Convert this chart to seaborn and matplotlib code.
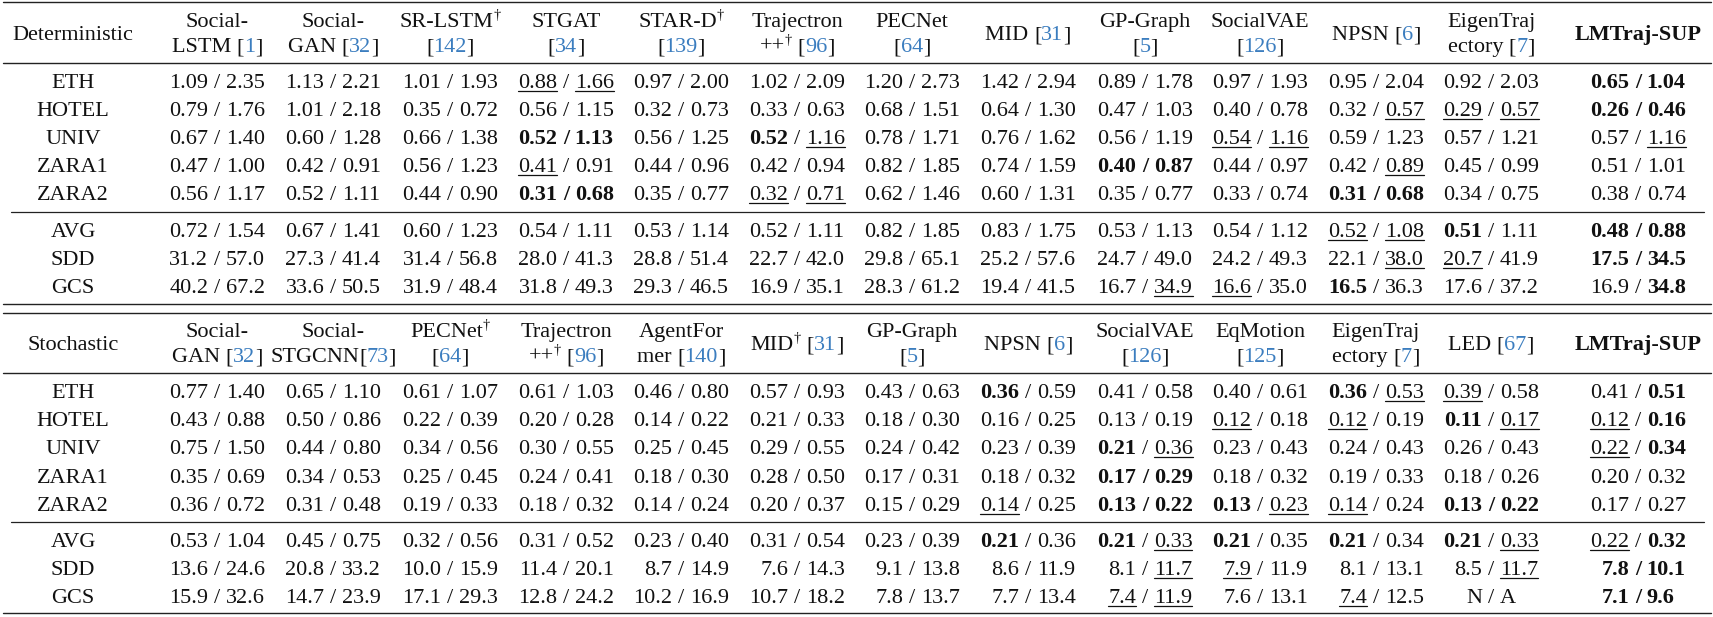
import matplotlib
matplotlib.use("Agg")
import matplotlib.pyplot as plt
import seaborn as sns
import re

sns.set_theme(style="white")
plt.rcParams['font.family'] = ['Liberation Serif', 'DejaVu Serif']

rows = ["ETH", "HOTEL", "UNIV", "ZARA1", "ZARA2", "AVG", "SDD", "GCS"]

det_headers = ["Social-\nLSTM [1]", "Social-\nGAN [32]", "SR-LSTM^†\n[142]", "STGAT\n[34]",
               "STAR-D^†\n[139]", "Trajectron\n++^† [96]", "PECNet\n[64]", "MID [31]",
               "GP-Graph\n[5]", "SocialVAE\n[126]", "NPSN [6]", "EigenTraj\nectory [7]", "*LMTraj-SUP*"]
det_slstm = ["1.09 / 2.35", "0.79 / 1.76", "0.67 / 1.40", "0.47 / 1.00", "0.56 / 1.17", "0.72 / 1.54", "31.2 / 57.0", "40.2 / 67.2"]
det_sgan = ["1.13 / 2.21", "1.01 / 2.18", "0.60 / 1.28", "0.42 / 0.91", "0.52 / 1.11", "0.67 / 1.41", "27.3 / 41.4", "33.6 / 50.5"]
det_srlstm = ["1.01 / 1.93", "0.35 / 0.72", "0.66 / 1.38", "0.56 / 1.23", "0.44 / 0.90", "0.60 / 1.23", "31.4 / 56.8", "31.9 / 48.4"]
det_stgat = ["_0.88_ / _1.66_", "0.56 / 1.15", "*0.52* / *1.13*", "_0.41_ / 0.91", "*0.31* / *0.68*", "0.54 / 1.11", "28.0 / 41.3", "31.8 / 49.3"]
det_stard = ["0.97 / 2.00", "0.32 / 0.73", "0.56 / 1.25", "0.44 / 0.96", "0.35 / 0.77", "0.53 / 1.14", "28.8 / 51.4", "29.3 / 46.5"]
det_trajpp = ["1.02 / 2.09", "0.33 / 0.63", "*0.52* / _1.16_", "0.42 / 0.94", "_0.32_ / _0.71_", "0.52 / 1.11", "22.7 / 42.0", "16.9 / 35.1"]
det_pecnet = ["1.20 / 2.73", "0.68 / 1.51", "0.78 / 1.71", "0.82 / 1.85", "0.62 / 1.46", "0.82 / 1.85", "29.8 / 65.1", "28.3 / 61.2"]
det_mid = ["1.42 / 2.94", "0.64 / 1.30", "0.76 / 1.62", "0.74 / 1.59", "0.60 / 1.31", "0.83 / 1.75", "25.2 / 57.6", "19.4 / 41.5"]
det_gpgraph = ["0.89 / 1.78", "0.47 / 1.03", "0.56 / 1.19", "*0.40* / *0.87*", "0.35 / 0.77", "0.53 / 1.13", "24.7 / 49.0", "16.7 / _34.9_"]
det_socialvae = ["0.97 / 1.93", "0.40 / 0.78", "_0.54_ / _1.16_", "0.44 / 0.97", "0.33 / 0.74", "0.54 / 1.12", "24.2 / 49.3", "_16.6_ / 35.0"]
det_npsn = ["0.95 / 2.04", "0.32 / _0.57_", "0.59 / 1.23", "0.42 / _0.89_", "*0.31* / *0.68*", "_0.52_ / _1.08_", "22.1 / _38.0_", "*16.5* / 36.3"]
det_eigen = ["0.92 / 2.03", "_0.29_ / _0.57_", "0.57 / 1.21", "0.45 / 0.99", "0.34 / 0.75", "*0.51* / 1.11", "_20.7_ / 41.9", "17.6 / 37.2"]
det_lmtraj = ["*0.65* / *1.04*", "*0.26* / *0.46*", "0.57 / _1.16_", "0.51 / 1.01", "0.38 / 0.74", "*0.48* / *0.88*", "*17.5* / *34.5*", "16.9 / *34.8*"]

sto_headers = ["Social-\nGAN [32]", "Social-\nSTGCNN[73]", "PECNet^†\n[64]", "Trajectron\n++^† [96]",
               "AgentFor\nmer [140]", "MID^† [31]", "GP-Graph\n[5]", "NPSN [6]", "SocialVAE\n[126]",
               "EqMotion\n[125]", "EigenTraj\nectory [7]", "LED [67]", "*LMTraj-SUP*"]
sto_sgan = ["0.77 / 1.40", "0.43 / 0.88", "0.75 / 1.50", "0.35 / 0.69", "0.36 / 0.72", "0.53 / 1.04", "13.6 / 24.6", "15.9 / 32.6"]
sto_stgcnn = ["0.65 / 1.10", "0.50 / 0.86", "0.44 / 0.80", "0.34 / 0.53", "0.31 / 0.48", "0.45 / 0.75", "20.8 / 33.2", "14.7 / 23.9"]
sto_pecnet = ["0.61 / 1.07", "0.22 / 0.39", "0.34 / 0.56", "0.25 / 0.45", "0.19 / 0.33", "0.32 / 0.56", "10.0 / 15.9", "17.1 / 29.3"]
sto_trajpp = ["0.61 / 1.03", "0.20 / 0.28", "0.30 / 0.55", "0.24 / 0.41", "0.18 / 0.32", "0.31 / 0.52", "11.4 / 20.1", "12.8 / 24.2"]
sto_agentformer = ["0.46 / 0.80", "0.14 / 0.22", "0.25 / 0.45", "0.18 / 0.30", "0.14 / 0.24", "0.23 / 0.40", "8.7 / 14.9", "10.2 / 16.9"]
sto_mid = ["0.57 / 0.93", "0.21 / 0.33", "0.29 / 0.55", "0.28 / 0.50", "0.20 / 0.37", "0.31 / 0.54", "7.6 / 14.3", "10.7 / 18.2"]
sto_gpgraph = ["0.43 / 0.63", "0.18 / 0.30", "0.24 / 0.42", "0.17 / 0.31", "0.15 / 0.29", "0.23 / 0.39", "9.1 / 13.8", "7.8 / 13.7"]
sto_npsn = ["*0.36* / 0.59", "0.16 / 0.25", "0.23 / 0.39", "0.18 / 0.32", "_0.14_ / 0.25", "*0.21* / 0.36", "8.6 / 11.9", "7.7 / 13.4"]
sto_socialvae = ["0.41 / 0.58", "0.13 / 0.19", "*0.21* / _0.36_", "*0.17* / *0.29*", "*0.13* / *0.22*", "*0.21* / _0.33_", "8.1 / _11.7_", "_7.4_ / _11.9_"]
sto_eqmotion = ["0.40 / 0.61", "_0.12_ / 0.18", "0.23 / 0.43", "0.18 / 0.32", "*0.13* / _0.23_", "*0.21* / 0.35", "_7.9_ / 11.9", "7.6 / 13.1"]
sto_eigen = ["*0.36* / _0.53_", "_0.12_ / 0.19", "0.24 / 0.43", "0.19 / 0.33", "_0.14_ / 0.24", "*0.21* / 0.34", "8.1 / 13.1", "_7.4_ / 12.5"]
sto_led = ["_0.39_ / 0.58", "*0.11* / _0.17_", "0.26 / 0.43", "0.18 / 0.26", "*0.13* / *0.22*", "*0.21* / _0.33_", "8.5 / _11.7_", "N / A"]
sto_lmtraj = ["0.41 / *0.51*", "_0.12_ / *0.16*", "_0.22_ / *0.34*", "0.20 / 0.32", "0.17 / 0.27", "_0.22_ / *0.32*", "*7.8* / *10.1*", "*7.1* / *9.6*"]

det_cols = [det_slstm, det_sgan, det_srlstm, det_stgat, det_stard, det_trajpp, det_pecnet, det_mid,
            det_gpgraph, det_socialvae, det_npsn, det_eigen, det_lmtraj]
sto_cols = [sto_sgan, sto_stgcnn, sto_pecnet, sto_trajpp, sto_agentformer, sto_mid, sto_gpgraph,
            sto_npsn, sto_socialvae, sto_eqmotion, sto_eigen, sto_led, sto_lmtraj]

W, H = 1713, 617
fig = plt.figure(figsize=(W / 100, H / 100), dpi=100)
ax = fig.add_axes([0, 0, 1, 1])
ax.set_xlim(0, W)
ax.set_ylim(H, 0)
ax.axis("off")
renderer = fig.canvas.get_renderer()

FS = 16
BLUE = "#3b7dbf"
INK = "#111111"
col_x = [217, 333, 450, 566, 681, 797, 912, 1028, 1145, 1260, 1376, 1491, 1638]
label_x = 73


def width(s, weight="normal", size=FS):
    t = ax.text(0, 0, s, fontsize=size, fontweight=weight)
    bb = t.get_window_extent(renderer)
    t.remove()
    return bb.width


def parse(s):
    if s.startswith("*") and s.endswith("*"):
        return s[1:-1], "bold", False
    if s.startswith("_") and s.endswith("_"):
        return s[1:-1], "normal", True
    return s, "normal", False


def put(x, yb, s, ha):
    txt, wt, ul = parse(s)
    t = ax.text(x, yb, txt, fontsize=FS, fontweight=wt, ha=ha, va="baseline", color=INK)
    if ul:
        w = width(txt, wt)
        x0 = x - w if ha == "right" else x
        ax.plot([x0, x0 + w], [yb + 3, yb + 3], color=INK, lw=0.9)


gap = width(" / ") / 2


def cell(x, yc, s):
    yb = yc + 7
    if " / " not in s:
        ax.text(x, yb, s, fontsize=FS, ha="center", va="baseline", color=INK)
        return
    l, r = s.split(" / ")
    both_bold = l.startswith("*") and r.startswith("*")
    ax.text(x, yb, "/", fontsize=FS, ha="center", va="baseline", color=INK,
            fontweight="bold" if both_bold else "normal")
    put(x - gap, yb, l, "right")
    put(x + gap, yb, r, "left")


def header_line(x, yb, line):
    bold = False
    if line.startswith("*") and line.endswith("*"):
        line, bold = line[1:-1], True
    segs = []
    for tok in re.split(r"(\[\d+\]|\^†)", line):
        if not tok:
            continue
        if tok.startswith("["):
            segs += [("[", INK, FS, 0), (tok[1:-1], BLUE, FS, 0), ("]", INK, FS, 0)]
        elif tok == "^†":
            segs.append(("†", INK, FS * 0.65, -8))
        else:
            segs.append((tok, INK, FS, 0))
    wt = "bold" if bold else "normal"
    ws = [width(t, wt, sz) for t, c, sz, dy in segs]
    cx = x - sum(ws) / 2
    for (t, c, sz, dy), w in zip(segs, ws):
        ax.text(cx, yb + dy, t, fontsize=sz, color=c, fontweight=wt, ha="left", va="baseline")
        cx += w


def table(title, headers, cols, hy, row_y, mid_rule):
    ax.text(label_x, hy + 7, title, fontsize=FS, ha="center", va="baseline", color=INK)
    for x, h in zip(col_x, headers):
        lines = h.split("\n")
        if len(lines) == 1:
            header_line(x, hy + 7, lines[0])
        else:
            header_line(x, hy - 13 + 7, lines[0])
            header_line(x, hy + 12 + 7, lines[1])
    for yc, r in zip(row_y, rows):
        ax.text(label_x, yc + 7, r, fontsize=FS, ha="center", va="baseline", color=INK)
    for x, col in zip(col_x, cols):
        for yc, s in zip(row_y, col):
            cell(x, yc, s)
    ax.plot([11, 1704], [mid_rule, mid_rule], color="#222222", lw=0.9)


table("Deterministic", det_headers, det_cols, 33, [81, 109, 137, 165, 193, 230, 258, 286], 212)
table("Stochastic", sto_headers, sto_cols, 343, [391, 419, 447, 476, 504, 540, 568, 596], 522)

for y in [2, 63, 304, 313, 373, 613]:
    ax.plot([3, 1711], [y, y], color="#222222", lw=1.0)

fig.savefig("out.png", dpi=100, facecolor="white")
